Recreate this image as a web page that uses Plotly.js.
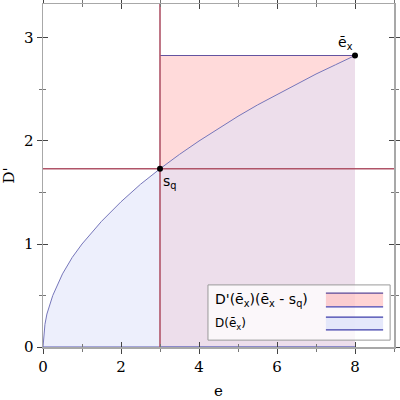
<!DOCTYPE html>
<html>
<head>
<meta charset="utf-8">
<script src="https://cdn.plot.ly/plotly-3.0.1.min.js"></script>
<style>
  html, body { margin: 0; padding: 0; background: #fff; }
  #chart { width: 400px; height: 400px; }
</style>
</head>
<body>
<div id="chart"></div>
<script>
// values: D(e) curve, s_q and e_x points
const curveX = [0, 0.05, 0.1, 0.25, 0.5, 0.75, 1, 1.5, 2, 2.5, 3, 3.5, 4, 4.5, 5, 5.5, 6, 6.5, 7, 7.5, 8];
const curveY = [0, 0.22, 0.32, 0.5, 0.71, 0.87, 1.0, 1.22, 1.41, 1.58, 1.73, 1.87, 2.0, 2.12, 2.24, 2.35, 2.45, 2.55, 2.65, 2.74, 2.83];
const sq = 3;
const sqVal = 1.73;
const ex = 8;
const exVal = 2.83;
const xTicks = [0, 2, 4, 6, 8];
const yTicks = [0, 1, 2, 3];
const xRange = [0, 9];
const yRange = [0, 3.33];

const redLine = 'rgb(176,84,104)';
const tickFont = { family: 'DejaVu Serif', size: 15, color: '#000' };

const traces = [
  // D'(e_x)(e_x - s_q) rectangle
  { x: [sq, ex], y: [exVal, exVal], mode: 'lines', fill: 'tozeroy',
    fillcolor: 'rgba(255,0,0,0.145)', line: { color: 'rgb(100,84,160)', width: 1 }, hoverinfo: 'skip' },
  { x: [sq, ex], y: [0, 0], mode: 'lines', line: { color: 'rgb(50,50,170)', width: 1.2 }, hoverinfo: 'skip' },
  // D(e_x) area under curve
  { x: curveX, y: curveY, mode: 'lines', fill: 'tozeroy',
    fillcolor: 'rgba(222,226,250,0.55)', line: { color: 'rgb(118,118,186)', width: 1 }, hoverinfo: 'skip' },
  { x: [curveX[0], ex], y: [0, 0], mode: 'lines', line: { color: 'rgb(90,90,180)', width: 1 }, hoverinfo: 'skip' },
  // red guide lines through s_q
  { x: [sq, sq], y: yRange, mode: 'lines', line: { color: redLine, width: 1.6 }, hoverinfo: 'skip' },
  { x: xRange, y: [sqVal, sqVal], mode: 'lines', line: { color: redLine, width: 1.6 }, hoverinfo: 'skip' },
  // points
  { x: [sq, ex], y: [sqVal, exVal], mode: 'markers', marker: { color: '#000', size: 6 }, hoverinfo: 'skip' },
  // invisible trace so the overlay axes (inner tick halves) get drawn
  { x: [sq], y: [sqVal], xaxis: 'x2', yaxis: 'y2', mode: 'markers', marker: { opacity: 0 }, hoverinfo: 'skip' }
];

function axis(extra) {
  return Object.assign({
    showgrid: false, zeroline: false, showline: true, linecolor: '#a8a8a8', linewidth: 1.5,
    mirror: 'ticks', ticks: 'outside', ticklen: 5, tickcolor: '#444', tickwidth: 1,
    tickfont: tickFont, fixedrange: true
  }, extra);
}

function innerAxis(extra) {
  return Object.assign({
    showticklabels: false, showgrid: false, zeroline: false, showline: false, mirror: 'ticks',
    ticks: 'inside', ticklen: 5, tickcolor: '#444', tickwidth: 1, fixedrange: true
  }, extra);
}

// paper coords of the hand made legend (plot area 351 x 343 px)
const legendBox = { x0: 0.470, x1: 0.989, y0: 0.020, y1: 0.181 };
const sw1 = { x0: 0.806, x1: 0.969, y0: 0.117, y1: 0.157 };
const sw2 = { x0: 0.806, x1: 0.969, y0: 0.050, y1: 0.087 };

function swatch(s, fill, topColor, botColor) {
  return [
    { type: 'rect', xref: 'paper', yref: 'paper', x0: s.x0, x1: s.x1, y0: s.y0, y1: s.y1,
      fillcolor: fill, line: { width: 0 } },
    { type: 'line', xref: 'paper', yref: 'paper', x0: s.x0, x1: s.x1, y0: s.y1, y1: s.y1,
      line: { color: topColor, width: 1.2 } },
    { type: 'line', xref: 'paper', yref: 'paper', x0: s.x0, x1: s.x1, y0: s.y0, y1: s.y0,
      line: { color: botColor, width: 1.2 } }
  ];
}

const layout = {
  width: 400, height: 400,
  margin: { l: 43, r: 6, t: 4, b: 53 },
  paper_bgcolor: '#fff', plot_bgcolor: '#fff',
  showlegend: false,
  font: { family: 'DejaVu Sans', color: '#000' },
  xaxis: axis({
    range: xRange, tickvals: xTicks,
    minor: { dtick: 1, tick0: 0, ticks: 'outside', ticklen: 3, tickcolor: '#777' },
    title: { text: 'e', font: { family: 'DejaVu Serif', size: 15 }, standoff: 18 }
  }),
  xaxis2: innerAxis({
    overlaying: 'x', anchor: 'y2', range: xRange, tickvals: xTicks,
    minor: { dtick: 1, tick0: 0, ticks: 'inside', ticklen: 3, tickcolor: '#777' }
  }),
  yaxis: axis({
    range: yRange, tickvals: yTicks,
    minor: { dtick: 0.5, tick0: 0, ticks: 'outside', ticklen: 3, tickcolor: '#777' },
    title: { text: "D'", font: { family: 'DejaVu Serif', size: 15 }, standoff: 10 }
  }),
  yaxis2: innerAxis({
    overlaying: 'y', anchor: 'x2', range: yRange, tickvals: yTicks,
    minor: { dtick: 0.5, tick0: 0, ticks: 'inside', ticklen: 3, tickcolor: '#777' }
  }),
  shapes: [
    { type: 'rect', xref: 'paper', yref: 'paper', x0: legendBox.x0, x1: legendBox.x1,
      y0: legendBox.y0, y1: legendBox.y1, fillcolor: 'rgba(255,255,255,0.75)',
      line: { color: '#9a9a9a', width: 1 } },
    ...swatch(sw1, 'rgba(255,0,0,0.17)', 'rgb(90,70,150)', 'rgb(70,70,180)'),
    ...swatch(sw2, 'rgba(222,226,250,0.8)', 'rgb(60,60,170)', 'rgb(60,60,170)')
  ],
  annotations: [
    { x: sq, y: sqVal, text: 's<sub>q</sub>', showarrow: false, xanchor: 'left', yanchor: 'top',
      xshift: 1, yshift: -2, font: { family: 'DejaVu Sans', size: 14 } },
    { x: ex, y: exVal, text: '\u0113<sub>x</sub>', showarrow: false, xanchor: 'right', yanchor: 'bottom',
      xshift: 0, yshift: 2, font: { family: 'DejaVu Sans', size: 14 } },
    { xref: 'paper', yref: 'paper', x: 0.484, y: 0.137, xanchor: 'left', yanchor: 'middle', showarrow: false,
      text: "D'(\u0113<sub>x</sub>)(\u0113<sub>x</sub> - s<sub>q</sub>)", font: { family: 'DejaVu Sans', size: 14 } },
    { xref: 'paper', yref: 'paper', x: 0.484, y: 0.068, xanchor: 'left', yanchor: 'middle', showarrow: false,
      text: 'D(\u0113<sub>x</sub>)', font: { family: 'DejaVu Sans', size: 12 } }
  ]
};

Plotly.newPlot('chart', traces, layout, { displayModeBar: false, staticPlot: true });
</script>
</body>
</html>
